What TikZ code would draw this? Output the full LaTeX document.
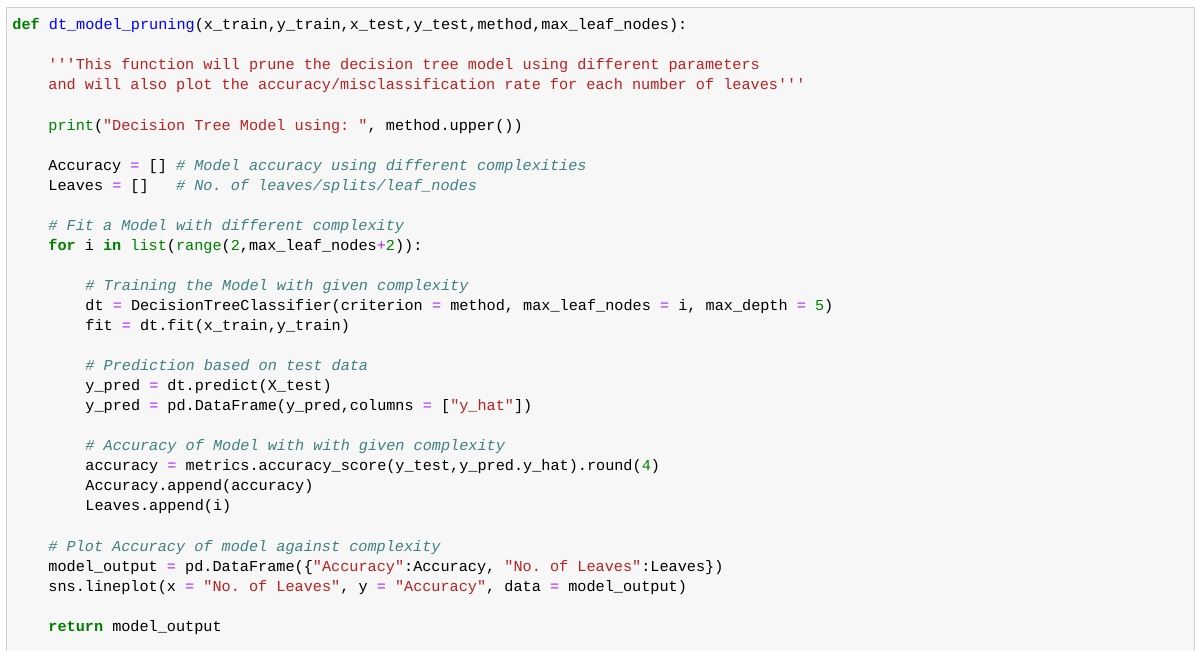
\documentclass[tikz,border=0pt]{standalone}
\usepackage{fontspec}
\setmonofont{Liberation Mono}
\definecolor{kwc}{HTML}{008000}
\definecolor{fnc}{HTML}{0000FF}
\definecolor{stc}{HTML}{BA2121}
\definecolor{cmc}{HTML}{408080}
\definecolor{opc}{HTML}{AA22FF}
\newcommand{\kw}[1]{\textcolor{kwc}{\bfseries #1}}
\newcommand{\fnn}[1]{\textcolor{fnc}{#1}}
\newcommand{\st}[1]{\textcolor{stc}{#1}}
\newcommand{\cm}[1]{\textcolor{cmc}{\itshape #1}}
\newcommand{\op}[1]{\textcolor{opc}{#1}}
\newcommand{\nm}[1]{\textcolor{kwc}{#1}}
\newcommand{\eq}{\op{=}}
\begin{document}
\begin{tikzpicture}[x=0.5pt,y=-0.5pt,
  ln/.style={anchor=base west,inner sep=0pt,font=\ttfamily\fontsize{7.6pt}{9pt}\selectfont}]
\useasboundingbox (0,0) rectangle (1200,650);
\fill[white] (0,0) rectangle (1200,650);
\draw[draw=black!19,fill=black!3] (6,7) rectangle (1194,652);
\node[ln] (l1) at (12,29) {\kw{def} \fnn{dt\_model\_pruning}(x\_train,y\_train,x\_test,y\_test,method,max\_leaf\_nodes):};
\node[ln] (l2) at (48,69) {\st{'''This function will prune the decision tree model using different parameters}};
\node[ln] (l3) at (48,89) {\st{and will also plot the accuracy/misclassification rate for each number of leaves'''}};
\node[ln] (l4) at (48,130) {\nm{print}(\st{"Decision Tree Model using: "}, method.upper())};
\node[ln] (l5) at (48,170) {Accuracy \eq{} [] \cm{\# Model accuracy using different complexities}};
\node[ln] (l6) at (48,190) {Leaves \eq{} []\ \ \ \cm{\# No. of leaves/splits/leaf\_nodes}};
\node[ln] (l7) at (48,230) {\cm{\# Fit a Model with different complexity}};
\node[ln] (l8) at (48,250) {\kw{for} i \kw{in} \nm{list}(\nm{range}(\nm{2},max\_leaf\_nodes\op{+}\nm{2})):};
\node[ln] (l9) at (85,290) {\cm{\# Training the Model with given complexity}};
\node[ln] (l10) at (85,310) {dt \eq{} DecisionTreeClassifier(criterion \eq{} method, max\_leaf\_nodes \eq{} i, max\_depth \eq{} \nm{5})};
\node[ln] (l11) at (85,330) {fit \eq{} dt.fit(x\_train,y\_train)};
\node[ln] (l12) at (85,370) {\cm{\# Prediction based on test data}};
\node[ln] (l13) at (85,390) {y\_pred \eq{} dt.predict(X\_test)};
\node[ln] (l14) at (85,410) {y\_pred \eq{} pd.DataFrame(y\_pred,columns \eq{} [\st{"y\_hat"}])};
\node[ln] (l15) at (85,450) {\cm{\# Accuracy of Model with with given complexity}};
\node[ln] (l16) at (85,470) {accuracy \eq{} metrics.accuracy\_score(y\_test,y\_pred.y\_hat).round(\nm{4})};
\node[ln] (l17) at (85,490) {Accuracy.append(accuracy)};
\node[ln] (l18) at (85,510) {Leaves.append(i)};
\node[ln] (l19) at (48,551) {\cm{\# Plot Accuracy of model against complexity}};
\node[ln] (l20) at (48,571) {model\_output \eq{} pd.DataFrame(\{\st{"Accuracy"}:Accuracy, \st{"No. of Leaves"}:Leaves\})};
\node[ln] (l21) at (48,591) {sns.lineplot(x \eq{} \st{"No. of Leaves"}, y \eq{} \st{"Accuracy"}, data \eq{} model\_output)};
\node[ln] (l22) at (48,631) {\kw{return} model\_output};
\end{tikzpicture}
\end{document}
